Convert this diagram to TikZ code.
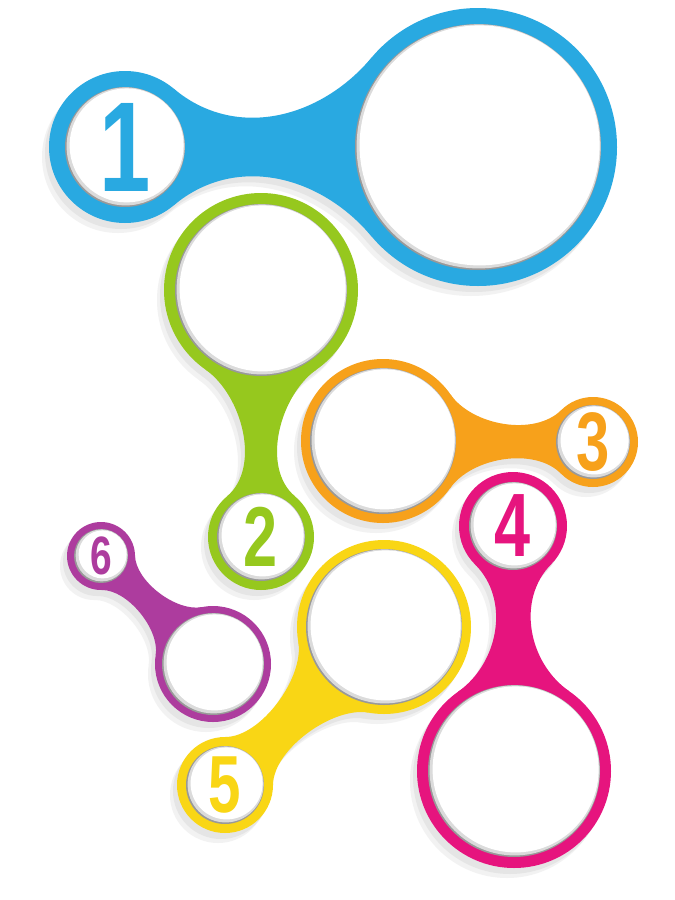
\documentclass[tikz,border=0pt]{standalone}
\usepackage{fontspec}
\newfontfamily\digitfont{Liberation Sans}
\definecolor{blobblue}{HTML}{29A9E1}
\definecolor{blobgreen}{HTML}{96C81E}
\definecolor{bloborange}{HTML}{F7A11B}
\definecolor{blobpink}{HTML}{E6147E}
\definecolor{blobyellow}{HTML}{F9D615}
\definecolor{blobpurple}{HTML}{AD3C9E}

\tikzset{
  numlabel/.style={font=\digitfont\bfseries\fontsize{#1}{#1}\selectfont,
    inner sep=0pt, xscale=0.72},
}

% small x/y/r/inner, big x/y/r/inner, angles, pull, colour, label, size
\def\blobs{125/147/76/60/478/147/139/123/50/40/80/blobblue/1/128,
  261/537/53/44/261/290/97/86/40/35/45/blobgreen/2/85,
  593/442/45/37/383/441/82/73/45/35/38/bloborange/3/83,
  513/526/54/44/514/771/97/86/45/35/50/blobpink/4/90,
  225/785/48/39/384/627/87/78/45/35/36/blobyellow/5/81,
  101/556/34/27/213/664/58/51/45/35/26/blobpurple/6/54}

\newcommand{\blobpoints}{%
  \pgfmathsetmacro\al{atan2(\by-\sy,\bx-\sx)}%
  \pgfmathsetmacro\pax{\sx+\sr*cos(\al+\ta)}%
  \pgfmathsetmacro\pay{\sy+\sr*sin(\al+\ta)}%
  \pgfmathsetmacro\pbx{\sx+\sr*cos(\al-\ta)}%
  \pgfmathsetmacro\pby{\sy+\sr*sin(\al-\ta)}%
  \pgfmathsetmacro\pcx{\bx+\br*cos(\al+180-\tb)}%
  \pgfmathsetmacro\pcy{\by+\br*sin(\al+180-\tb)}%
  \pgfmathsetmacro\pdx{\bx+\br*cos(\al+180+\tb)}%
  \pgfmathsetmacro\pdy{\by+\br*sin(\al+180+\tb)}%
}

\begin{document}
\begin{tikzpicture}[x=1pt,y=-1pt]
  \fill[white] (0,0) rectangle (675,900);
  \useasboundingbox (0,0) rectangle (675,900);

  % soft shadows
  \foreach \shx/\shy/\tone in {-7/10/5, -4/6/10} {
    \foreach \sx/\sy/\sr/\sri/\bx/\by/\br/\bri/\ta/\tb/\tk/\col/\lab/\fs in \blobs {
      \blobpoints
      \begin{scope}[shift={(\shx,\shy)}]
        \fill[black!\tone] (\pax,\pay) .. controls +(\al+\ta-90:\tk) and +(\al-90-\tb:\tk) .. (\pcx,\pcy)
          -- (\pdx,\pdy) .. controls +(\al+90+\tb:\tk) and +(\al+90-\ta:\tk) .. (\pbx,\pby) -- cycle;
        \fill[black!\tone] (\sx,\sy) circle[radius=\sr] (\bx,\by) circle[radius=\br];
      \end{scope}
    }
  }

  % coloured bodies
  \foreach \sx/\sy/\sr/\sri/\bx/\by/\br/\bri/\ta/\tb/\tk/\col/\lab/\fs in \blobs {
    \blobpoints
    \fill[\col] (\pax,\pay) .. controls +(\al+\ta-90:\tk) and +(\al-90-\tb:\tk) .. (\pcx,\pcy)
      -- (\pdx,\pdy) .. controls +(\al+90+\tb:\tk) and +(\al+90-\ta:\tk) .. (\pbx,\pby) -- cycle;
    \fill[\col] (\sx,\sy) circle[radius=\sr] (\bx,\by) circle[radius=\br];
  }

  % white holes and numbers
  \foreach \sx/\sy/\sr/\sri/\bx/\by/\br/\bri/\ta/\tb/\tk/\col/\lab/\fs in \blobs {
    \foreach \ox/\oy/\rr in {\sx/\sy/\sri, \bx/\by/\bri} {
      \fill[black!40] (\ox,\oy) circle[radius=\rr];
      \fill[black!14] ([shift={(0.6,-0.6)}]\ox,\oy) circle[radius=\rr-1];
      \fill[white] ([shift={(1.6,-1.6)}]\ox,\oy) circle[radius=\rr-3];
    }
    \node[numlabel=\fs, text=\col] (n\lab) at (\sx,\sy) {\lab};
  }
\end{tikzpicture}
\end{document}
